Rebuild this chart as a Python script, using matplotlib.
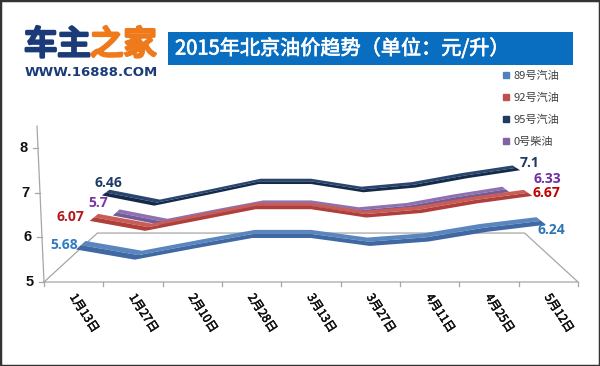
import matplotlib.pyplot as plt
import matplotlib.patheffects as pe
from matplotlib.patches import Rectangle, Polygon
import numpy as np

plt.rcParams['font.family'] = ['Noto Sans CJK SC', 'DejaVu Sans']

dates = ['1月13日', '1月27日', '2月10日', '2月28日', '3月13日',
         '3月27日', '4月11日', '4月25日', '5月12日']
names = ['89号汽油', '92号汽油', '95号汽油', '0号柴油']
p89 = [5.68, 5.45, 5.70, 5.94, 5.94, 5.76, 5.86, 6.08, 6.24]
p92 = [6.07, 5.83, 6.09, 6.35, 6.35, 6.15, 6.26, 6.49, 6.67]
p95 = [6.46, 6.20, 6.47, 6.75, 6.75, 6.54, 6.66, 6.90, 7.10]
p0 = [5.70, 5.44, 5.70, 5.95, 5.95, 5.76, 5.88, 6.12, 6.33]
series = [p89, p92, p95, p0]
yticks = [5, 6, 7, 8]

ribbon = ['#4069a3', '#b03f3b', '#142a48', '#745a98']
ribbon_top = ['#5a86c0', '#c85c57', '#284670', '#8d72b0']
key_colors = ['#4f81bd', '#c0504d', '#1f3b5f', '#8064a2']
label_colors = ['#2e7cc4', '#b3181e', '#1f3a66', '#7a34a8']
end_label_colors = ['#2e75b6', '#c00000', '#1f3864', '#7030a0']

fig = plt.figure(figsize=(6, 3.66), dpi=100)
ax = fig.add_axes([0, 0, 1, 1])
# front plane: category edge -0.5 at 44px, value 5 at 282px
ux, uy = 534 / 9, 134 / 3
ax.set_xlim(-0.5 - 44 / ux, -0.5 + 556 / ux)
ax.set_ylim(5 - 84 / uy, 5 + 282 / uy)
ax.axis('off')

# simple perspective toward a vanishing point above the middle
vx, vy = 4.0, 10.48


def proj(x, y, z):
    s = 1.0 / (1.0 + 0.25 * np.asarray(z, float))
    return vx + (np.asarray(x, float) - vx) * s, vy + (np.asarray(y, float) - vy) * s


xs = np.arange(len(dates))

# floor outline
fx, fy = proj([-0.5, 8.5, 8.5, -0.5, -0.5], [5] * 5, [0, 0, 1, 1, 0])
ax.plot(fx, fy, color='#a6a6a6', lw=0.9, zorder=1)

# category ticks and labels
for j in range(len(dates) + 1):
    ax.plot([j - 0.5, j - 0.5], [5, 5 - 4 / uy], color='#a6a6a6', lw=0.9)
for i, d in enumerate(dates):
    ax.text(i - 0.02, 5 - 13 / uy, d, rotation=-57, rotation_mode='anchor',
            ha='left', va='center', fontsize=8.5, color='#111111',
            path_effects=[pe.withStroke(linewidth=0.4, foreground='#111111')])

# slanted value axis
slope = (7 / 156) * uy / ux


def axis_x(v):
    return -0.5 - (v - 5) * slope


ax.plot([axis_x(5), axis_x(8.49)], [5, 8.49], color='#a6a6a6', lw=0.9)
for v in yticks:
    ax.plot([axis_x(v), axis_x(v) - 5 / ux], [v, v], color='#a6a6a6', lw=0.9)
    ax.text(axis_x(v) - 10 / ux, v, str(v), ha='right', va='center',
            fontsize=10.5, fontweight='bold', family='Liberation Sans', color='#111111')

# ribbons, back to front
for k in range(3, -1, -1):
    zc = (k + 0.5) / 4
    z0, zm, z1 = zc - 0.085, zc, zc + 0.085
    ax0, ay0 = proj(xs, series[k], z0)
    axm, aym = proj(xs, series[k], zm)
    ax1, ay1 = proj(xs, series[k], z1)
    front = np.column_stack([np.r_[ax0, axm[::-1]], np.r_[ay0, aym[::-1]]])
    back = np.column_stack([np.r_[axm, ax1[::-1]], np.r_[aym, ay1[::-1]]])
    ax.add_patch(Polygon(back, closed=True, facecolor=ribbon_top[k],
                         edgecolor='none', zorder=3 + (3 - k)))
    ax.add_patch(Polygon(front, closed=True, facecolor=ribbon[k],
                         edgecolor='none', zorder=3 + (3 - k)))

# data labels at both ends
start_off = [(-3, 0, 'right'), (-10, 0, 'right'), (3, 10, 'center'), (-8, 9, 'right')]
end_off = [(-4, -9, 'left'), (5, 0, 'left'), (3, 5, 'left'), (28, 10, 'left')]
for k in range(4):
    zc = (k + 0.5) / 4
    sx, sy = proj(xs[0], series[k][0], zc)
    ex, ey = proj(xs[-1], series[k][-1], zc)
    dx, dy, ha = start_off[k]
    ax.annotate(f'{series[k][0]:g}', (sx, sy), xytext=(dx, dy), textcoords='offset pixels',
                ha=ha, va='center', fontsize=10, fontweight='bold', family='Open Sans',
                color=label_colors[k], zorder=10)
    dx, dy, ha = end_off[k]
    ax.annotate(f'{series[k][-1]:g}', (ex, ey), xytext=(dx, dy), textcoords='offset pixels',
                ha=ha, va='center', fontsize=10, fontweight='bold', family='Open Sans',
                color=end_label_colors[k], zorder=10)

# legend
handles = [plt.Line2D([], [], marker='s', ls='', color=c, markersize=3.8) for c in key_colors]
leg = ax.legend(handles, names, loc='upper left', bbox_to_anchor=(503 / 600, 1 - 71 / 366),
                bbox_transform=fig.transFigure, frameon=False, fontsize=8,
                handlelength=0.6, handletextpad=0.35, labelspacing=1.05,
                borderpad=0, borderaxespad=0)
for t in leg.get_texts():
    t.set_color('#404040')

# title bar
fig.patches.append(Rectangle((168 / 600, 1 - 65 / 366), 405 / 600, 33 / 366,
                             transform=fig.transFigure, facecolor='#0a6ec0', edgecolor='none'))
fig.text(175 / 600, 1 - 49 / 366, '2015年北京油价趋势（单位：元/升）', color='white',
         fontsize=14.5, ha='left', va='center',
         path_effects=[pe.withStroke(linewidth=0.5, foreground='white')])

# logo
bold_navy = [pe.withStroke(linewidth=2.2, foreground='#1b3a78')]
bold_orange = [pe.withStroke(linewidth=2.2, foreground='#ee7a1c')]
fig.text(24 / 600, 1 - 45 / 366, '车主', color='#1b3a78', fontsize=24,
         ha='left', va='center', path_effects=bold_navy)
fig.text(90 / 600, 1 - 45 / 366, '之家', color='#ee7a1c', fontsize=24,
         ha='left', va='center', path_effects=bold_orange)
fig.text(91 / 600, 1 - 73 / 366, 'WWW.16888.COM', color='#1b3a78', fontsize=9.5,
         fontweight='bold', family='DejaVu Sans', ha='center', va='center')

# outer frame
fig.patches.append(Rectangle((0, 0), 1, 1, transform=fig.transFigure, fill=False,
                             edgecolor='#333333', lw=2.5))

fig.savefig('out.png', dpi=100)
